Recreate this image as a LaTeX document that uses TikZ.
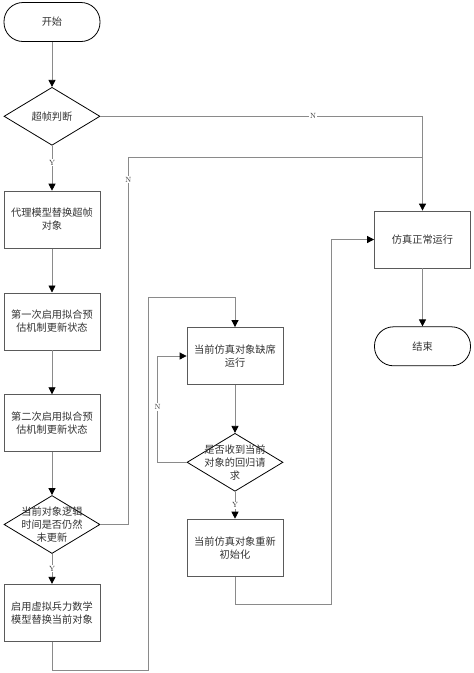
\documentclass[tikz,border=0pt]{standalone}
\usepackage{fontspec}
\newfontfamily\cjk{Noto Sans CJK SC}
\usepackage{tikz}
\usetikzlibrary{arrows.meta,positioning,calc,shapes.geometric}
\definecolor{linegray}{HTML}{8A8A8A}
\definecolor{edgegray}{HTML}{5A5A5A}
\definecolor{textgray}{HTML}{333333}
\tikzset{
  proc/.style={draw=edgegray, thick, align=center, minimum width=96pt, minimum height=57pt, inner sep=2pt, text=textgray, font=\cjk\fontsize{10.2}{13}\selectfont},
  term/.style={draw=black, thick, rounded corners=19pt, minimum width=96pt, minimum height=39pt, text=textgray, font=\cjk\fontsize{10.2}{13}\selectfont},
  dec/.style={draw=black, thick, diamond, aspect=1.7, minimum width=96pt, minimum height=58pt, inner sep=0pt},
  dtext/.style={align=center, text=textgray, font=\cjk\fontsize{10.2}{13}\selectfont},
  line/.style={draw=linegray, thick},
  arrow/.style={line, -{Triangle[length=7pt, width=7pt, color=black]}},
  lab/.style={fill=white, inner sep=1pt, text=textgray, font=\fontsize{7.5}{8}\selectfont},
}
\begin{document}
\begin{tikzpicture}[x=1pt, y=-1pt, node distance=44pt]
  \useasboundingbox (0,0) rectangle (474,673);

  % left column
  \node[term] (start) at (52,22) {开始};
  \node[dec, below=45pt of start, label={[dtext]center:超帧判断}] (judge) {};
  \node[proc, below=45pt of judge] (proxy) {代理模型替换超帧\\对象};
  \node[proc, below=of proxy] (fit1) {第一次启用拟合预\\估机制更新状态};
  \node[proc, below=of fit1] (fit2) {第二次启用拟合预\\估机制更新状态};
  \node[dec, below=43pt of fit2, label={[dtext]center:当前对象逻辑\\时间是否仍然\\未更新}] (chk) {};
  \node[proc, below=30pt of chk] (vmodel) {启用虚拟兵力数学\\模型替换当前对象};

  % middle column
  \node[proc] (absent) at (235,356) {当前仿真对象缺席\\运行};
  \node[dec, below=48pt of absent, label={[dtext]center:是否收到当前\\对象的回归请\\求}] (ask) {};
  \node[proc, below=27pt of ask] (reinit) {当前仿真对象重新\\初始化};

  % right column
  \node[proc] (run) at (422.5,239.5) {仿真正常运行};
  \node[term, below=58pt of run] (stop) {结束};

  \draw[arrow] (start) -- (judge);
  \draw[arrow] (judge.east) -| node[lab, pos=0.33] {N} (run.north);
  \draw[arrow] (judge) -- node[lab, pos=0.38] {Y} (proxy);
  \draw[arrow] (proxy) -- (fit1);
  \draw[arrow] (fit1) -- (fit2);
  \draw[arrow] (fit2) -- (chk);
  \draw[line] (chk.east) -- ++(28,0) |- node[lab, pos=0.47] {N} ($(run.north)+(0,-53)$);
  \draw[arrow] (chk) -- node[lab, pos=0.5] {Y} (vmodel);
  \draw[arrow] (vmodel.south) -- ++(0,29) -| ($(absent.north)+(-87,-30)$) -| (absent.north);

  \draw[arrow] (absent) -- (ask);
  \draw[arrow] (ask.west) -- ++(-29,0) |- node[lab, pos=0.26] {N} (absent.west);
  \draw[arrow] (ask) -- node[lab, pos=0.5] {Y} (reinit);
  \draw[arrow] (reinit.south) -- ++(0,28) -| ($(run.west)+(-43,0)$) -- (run.west);

  \draw[arrow] (run) -- (stop);
\end{tikzpicture}
\end{document}
